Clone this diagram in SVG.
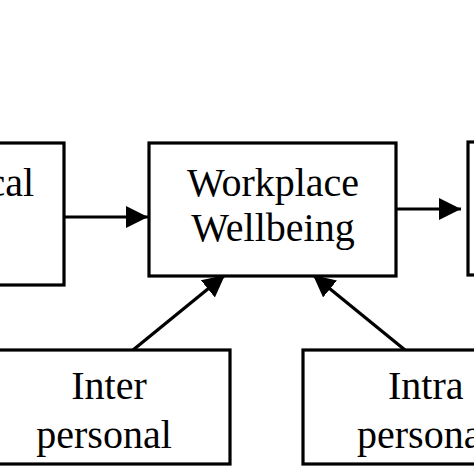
<svg xmlns="http://www.w3.org/2000/svg" width="474" height="474" viewBox="0 0 474 474">
<style>
.box{fill:#fff;stroke:#000;stroke-width:3.2}
.t{font-family:"Liberation Serif","Times New Roman",serif;font-size:40px;fill:#000}
.c{stroke:#000;stroke-width:3.2;fill:none;marker-end:url(#ah)}
</style>
<defs>
<marker id="ah" markerUnits="userSpaceOnUse" markerWidth="23" markerHeight="23" refX="22" refY="11" orient="auto" viewBox="0 0 23 23">
<path d="M0,0 L22,11 L0,22 Z" fill="#000"/>
</marker>
</defs>
<rect width="474" height="474" fill="#fff"/>
<g id="connectors">
<line class="c" x1="64" y1="217" x2="148" y2="217"/>
<line class="c" x1="396" y1="209" x2="461" y2="209"/>
<line class="c" x1="133" y1="350" x2="225" y2="275"/>
<line class="c" x1="405" y1="350" x2="313" y2="275"/>
</g>
<g id="node-left">
<rect class="box" x="-10" y="143" width="74" height="142"/>
<text class="t" x="34" y="196" text-anchor="end">cal</text>
</g>
<g id="node-workplace">
<rect class="box" x="149" y="143" width="247" height="133"/>
<text class="t" x="273" y="196" text-anchor="middle">Workplace</text>
<text class="t" x="273" y="241" text-anchor="middle">Wellbeing</text>
</g>
<g id="node-right">
<rect class="box" x="468" y="142" width="30" height="133"/>
</g>
<g id="node-inter">
<rect class="box" x="-10" y="350" width="240" height="114"/>
<text class="t" x="109" y="399" text-anchor="middle">Inter</text>
<text class="t" x="104" y="448" text-anchor="middle">personal</text>
</g>
<g id="node-intra">
<rect class="box" x="303" y="350" width="200" height="114"/>
<text class="t" x="388" y="399">Intra</text>
<text class="t" x="357" y="448">personal</text>
</g>
</svg>
